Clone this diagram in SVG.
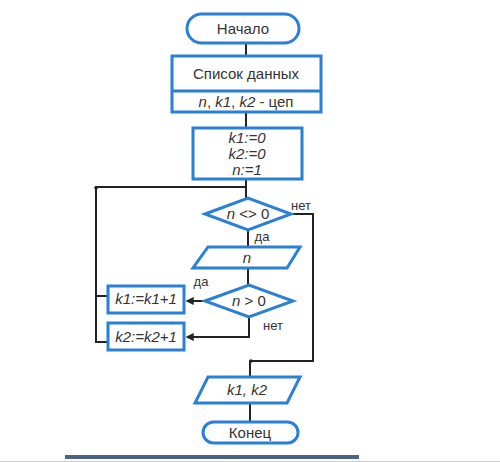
<svg xmlns="http://www.w3.org/2000/svg" width="500" height="462" viewBox="0 0 500 462">
<style>
.b{fill:#fff;stroke:#2a7fd6;stroke-width:3}
.c{fill:none;stroke:#222;stroke-width:2}
text{font-family:"Liberation Sans",Arial,sans-serif;fill:#333;font-size:15px;text-anchor:middle}
.i{font-style:italic}
.s{font-size:13px}
</style>
<defs>
<marker id="a" viewBox="0 0 6 6" refX="5" refY="3" markerWidth="4" markerHeight="4" orient="auto"><path d="M0,0L6,3L0,6z" fill="#222"/></marker>
</defs>
<rect width="500" height="462" fill="#fff"/>
<g id="connectors">
<path class="c" d="M246,43V56M246,112V128M246,179V199M248,230V247M248,268V285"/>
<path class="c" d="M205,301H187" marker-end="url(#a)"/>
<path class="c" d="M249,317V337H187" marker-end="url(#a)"/>
<path class="c" d="M108,296H96M108,342H96V187H246"/>
<path class="c" d="M291,214H313V361H250V377M250,403V422"/>
<circle cx="96" cy="188" r="1.8" fill="#222"/>
<circle cx="251" cy="361" r="1.8" fill="#222"/>
<text x="301" y="210" class="s">нет</text>
<text x="262" y="241" class="s">да</text>
<text x="201" y="286" class="s">да</text>
<text x="273" y="330" class="s">нет</text>
</g>
<g id="start">
<rect class="b" x="187" y="14" width="112" height="29" rx="14.5"/>
<text x="243" y="34">Начало</text>
</g>
<g id="data">
<rect class="b" x="172" y="56" width="149" height="56"/>
<line class="b" x1="172" y1="91" x2="321" y2="91"/>
<text x="246" y="79">Список данных</text>
<text x="246" y="107"><tspan class="i">n</tspan>, <tspan class="i">k1</tspan>, <tspan class="i">k2</tspan> - цеп</text>
</g>
<g id="init">
<rect class="b" x="193" y="128" width="109" height="51"/>
<text x="247" y="143" class="i">k1:=0</text>
<text x="247" y="159" class="i">k2:=0</text>
<text x="247" y="175" class="i">n:=1</text>
</g>
<g id="cond1">
<polygon class="b" points="205,214 248,198 291,214 248,230"/>
<text x="248" y="219"><tspan class="i">n</tspan> &lt;&gt; 0</text>
</g>
<g id="input">
<polygon class="b" points="208,247 300,247 287,268 193,268"/>
<text x="247" y="263" class="i">n</text>
</g>
<g id="cond2">
<polygon class="b" points="205,301 249,285 293,301 249,317"/>
<text x="249" y="306"><tspan class="i">n</tspan> &gt; 0</text>
</g>
<g id="inc1">
<rect class="b" x="108" y="286" width="76" height="27"/>
<text x="146" y="304" class="i">k1:=k1+1</text>
</g>
<g id="inc2">
<rect class="b" x="108" y="323" width="76" height="27"/>
<text x="146" y="342" class="i">k2:=k2+1</text>
</g>
<g id="output">
<polygon class="b" points="208,377 300,377 287,403 195,403"/>
<text x="247" y="395" class="i">k1, k2</text>
</g>
<g id="end">
<rect class="b" x="203" y="422" width="95" height="21" rx="10.5"/>
<text x="250" y="438">Конец</text>
</g>
<rect x="65" y="455" width="294" height="4" fill="#4b6386"/>
<line x1="0" y1="461.5" x2="500" y2="461.5" stroke="#ccc" stroke-width="1"/>
</svg>
